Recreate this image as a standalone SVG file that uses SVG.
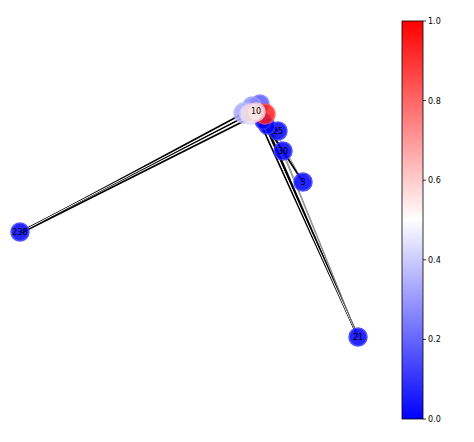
<svg xmlns="http://www.w3.org/2000/svg" width="474" height="442" viewBox="0 0 474 442">
<defs>
<linearGradient id="cmap" x1="0" y1="1" x2="0" y2="0">
<stop offset="0" stop-color="#0000ff"/>
<stop offset="0.5" stop-color="#ffffff"/>
<stop offset="1" stop-color="#ff0000"/>
</linearGradient>
</defs>
<style>
.e{stroke:#000;stroke-width:1.8;fill:none}
.ew{stroke:#fff;stroke-width:1;fill:none}
.et{stroke:#777;stroke-width:0.8;fill:none}
.n{stroke-width:1.5;opacity:0.85}
.blue{fill:#0000ff;stroke:#3535ff}
.t{font-family:"DejaVu Sans",sans-serif;font-size:8px;fill:#000;text-anchor:middle;dominant-baseline:central}
.tick{font-family:"DejaVu Sans",sans-serif;font-size:8px;fill:#000}
</style>
<rect width="474" height="442" fill="#fff"/>
<g id="edges">
<line class="e" x1="20" y1="233" x2="244" y2="113"/>
<line class="e" x1="20" y1="232" x2="246" y2="116"/>
<line class="e" x1="21" y1="233" x2="248" y2="119"/>
<line class="ew" x1="20" y1="232.5" x2="245" y2="115"/>
<line class="e" x1="358" y1="337" x2="258" y2="118"/>
<line class="e" x1="358" y1="337" x2="262" y2="118"/>
<line class="e" x1="358" y1="337" x2="265" y2="122"/>
<line class="ew" x1="358" y1="337" x2="260" y2="118"/>
<line class="et" x1="358" y1="337" x2="270" y2="122"/>
<line class="et" x1="358" y1="337" x2="283" y2="151"/>
<line class="e" x1="265" y1="124" x2="283" y2="151"/>
<line class="e" x1="264" y1="120" x2="278" y2="131"/>
<line class="e" x1="283" y1="151" x2="303" y2="182"/>
<line class="et" x1="268" y1="118" x2="303" y2="182"/>
</g>
<g id="node-238"><circle class="n blue" cx="20" cy="232" r="9"/><text class="t" x="20" y="232">238</text></g>
<g id="node-21"><circle class="n blue" cx="358" cy="337" r="9"/><text class="t" x="358" y="337">21</text></g>
<g id="node-3"><circle class="n blue" cx="303" cy="182" r="9"/><text class="t" x="303" y="182">3</text></g>
<g id="node-30"><circle class="n blue" cx="283" cy="151" r="9"/><text class="t" x="283" y="151">30</text></g>
<g id="node-25"><circle class="n blue" cx="278" cy="131" r="9"/><text class="t" x="278" y="131">25</text></g>
<g id="cluster">
<circle class="n blue" cx="267" cy="126" r="8"/>
<circle class="n blue" cx="263" cy="121" r="8"/>
<circle class="n" cx="260" cy="104" r="9" fill="#5a5aff" stroke="#7a7aff" opacity="0.7"/>
<circle class="n" cx="252" cy="106" r="9" fill="#8c8cff" stroke="#a0a0ff" opacity="0.7"/>
<circle class="n" cx="244" cy="113" r="10" fill="#a8a8ff" stroke="#b8b8ff" opacity="0.75"/>
<circle class="n" cx="265" cy="114" r="10" fill="#ff2020" stroke="#ff5050"/>
<circle class="n" cx="250" cy="114" r="10" fill="#f0e4ea" stroke="#dcd0ff"/>
</g>
<g id="node-10"><circle class="n" cx="256" cy="112" r="9" fill="#fde8e8" stroke="#ffcccc" opacity="0.7"/><text class="t" x="256" y="111">10</text></g>
<g id="colorbar">
<rect x="402" y="21" width="21" height="398" fill="url(#cmap)" stroke="#000" stroke-width="0.8"/>
<g stroke="#000" stroke-width="0.8">
<line x1="423" y1="21" x2="426" y2="21"/>
<line x1="423" y1="100.6" x2="426" y2="100.6"/>
<line x1="423" y1="180.2" x2="426" y2="180.2"/>
<line x1="423" y1="259.8" x2="426" y2="259.8"/>
<line x1="423" y1="339.4" x2="426" y2="339.4"/>
<line x1="423" y1="419" x2="426" y2="419"/>
</g>
<text class="tick" x="428" y="24">1.0</text>
<text class="tick" x="428" y="103.6">0.8</text>
<text class="tick" x="428" y="183.2">0.6</text>
<text class="tick" x="428" y="262.8">0.4</text>
<text class="tick" x="428" y="342.4">0.2</text>
<text class="tick" x="428" y="422">0.0</text>
</g>
</svg>
